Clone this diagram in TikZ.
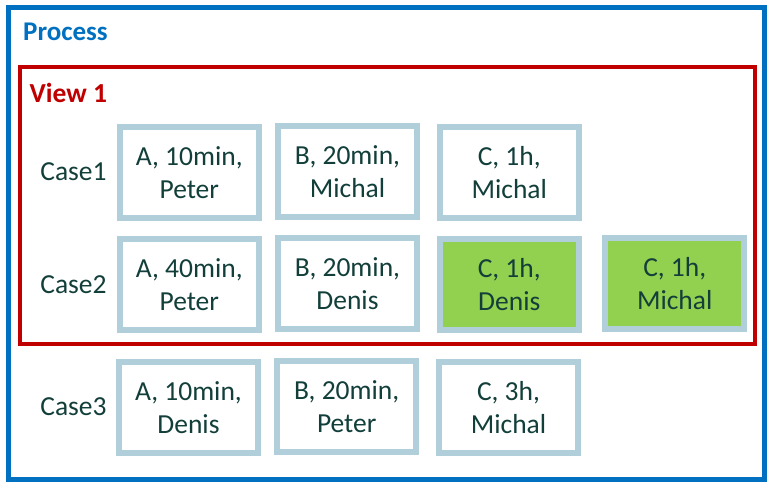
\documentclass[tikz,border=0pt]{standalone}
\usepackage{fontspec}
\setmainfont{Carlito}
\definecolor{procblue}{HTML}{0070C0}
\definecolor{viewred}{HTML}{C00000}
\definecolor{boxborder}{HTML}{B0CFDB}
\definecolor{txtcol}{HTML}{123F3A}
\definecolor{hlgreen}{HTML}{92D050}
\tikzset{
  evbox/.style={rectangle, draw=boxborder, line width=6pt, fill=white,
    minimum width=139pt, minimum height=91pt, inner sep=0pt, align=center,
    text=txtcol, font=\fontsize{27.5}{33}\selectfont},
  evhl/.style={evbox, fill=hlgreen},
  caselbl/.style={text=txtcol, font=\fontsize{27.5}{33}\selectfont, inner sep=0pt},
  frametitle/.style={font=\bfseries\fontsize{26}{30}\selectfont, inner sep=0pt, anchor=base west}
}
\begin{document}
\begin{tikzpicture}[x=1pt,y=-1pt]
\useasboundingbox (0,0) rectangle (772,490);
\fill[white] (0,0) rectangle (772,490);
% outer process frame
\draw[procblue, line width=5pt] (8.5,7.5) rectangle (764,479);
\node[frametitle, text=procblue, font=\bfseries\fontsize{27}{30}\selectfont] (proc) at (23,40) {Process};
% view frame
\draw[viewred, line width=4pt] (19.5,66.7) rectangle (754.7,343.7);
\node[frametitle, text=viewred, font=\bfseries\fontsize{27.5}{30}\selectfont] (view) at (29.5,102) {View 1};
% case labels
\node[caselbl] (c1) at (73.5,171.7) {Case1};
\node[caselbl] (c2) at (73.5,284.3) {Case2};
\node[caselbl] (c3) at (73.5,406.7) {Case3};
% row 1
\node[evbox] (a1) at (189.3,172.2) {A, 10min,\\Peter};
\node[evbox] (b1) at (347.5,171.7) {B, 20min,\\Michal};
\node[evbox] (k1) at (509.3,172.2) {C, 1h,\\Michal};
% row 2
\node[evbox] (a2) at (189.3,284.8) {A, 40min,\\Peter};
\node[evbox] (b2) at (347.5,283.8) {B, 20min,\\Denis};
\node[evhl] (k2) at (509.3,284.8) {C, 1h,\\Denis};
\node[evhl] (d2) at (674.7,283.8) {C, 1h,\\Michal};
% row 3
\node[evbox] (a3) at (188.5,407.5) {A, 10min,\\Denis};
\node[evbox] (b3) at (346.7,406.3) {B, 20min,\\Peter};
\node[evbox] (k3) at (508.5,407.2) {C, 3h,\\Michal};
\end{tikzpicture}
\end{document}
